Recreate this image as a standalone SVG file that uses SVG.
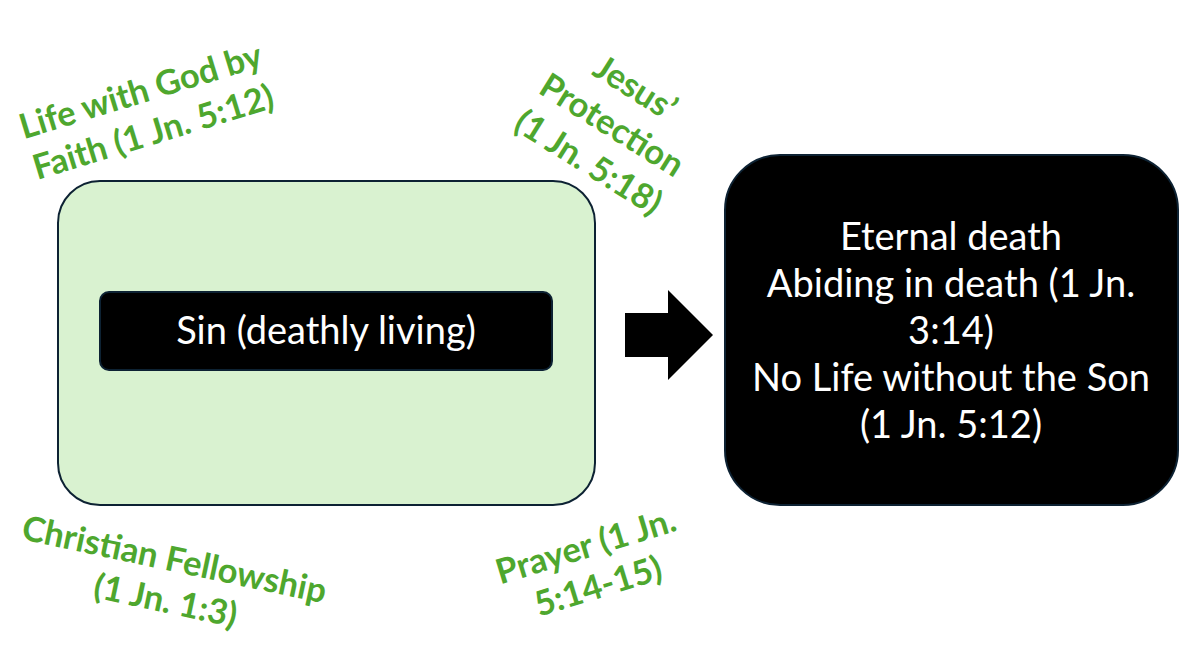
<svg xmlns="http://www.w3.org/2000/svg" width="1183" height="655" viewBox="0 0 1183 655">
<style>
.lbl{font-family:Lato,"Open Sans","Liberation Sans",sans-serif;font-weight:bold;font-size:34.5px;fill:#4ea72e;text-anchor:middle}
.wt{font-family:Lato,"Open Sans","Liberation Sans",sans-serif;font-size:38px;fill:#ffffff;text-anchor:middle}
.box{stroke:#0d2233;stroke-width:2}
</style>
<rect width="1183" height="655" fill="#ffffff"/>
<g id="life-box">
<rect class="box" x="58" y="181" width="537" height="324" rx="42" fill="#d9f2d0"/>
</g>
<g id="sin-node">
<rect class="box" x="100" y="292" width="452" height="78" rx="9" fill="#000000"/>
<text class="wt" x="326" y="344">Sin (deathly living)</text>
</g>
<g id="connectors">
<polygon points="625,313 668,313 668,290 713,335 668,380 668,357 625,357" fill="#000000"/>
</g>
<g id="death-node">
<rect class="box" x="725" y="155" width="453" height="350" rx="55" fill="#000000"/>
<text class="wt" x="951" y="250">Eternal death</text>
<text class="wt" x="951" y="297">Abiding in death (1 Jn.</text>
<text class="wt" x="951" y="344">3:14)</text>
<text class="wt" x="951" y="391">No Life without the Son</text>
<text class="wt" x="951" y="438">(1 Jn. 5:12)</text>
</g>
<g id="label-life" transform="translate(147,112) rotate(-17)">
<text class="lbl" x="0" y="-10">Life with God by</text>
<text class="lbl" x="0" y="33">Faith (1 Jn. 5:12)</text>
</g>
<g id="label-jesus" transform="translate(612,125) rotate(32)">
<text class="lbl" x="0" y="-32">Jesus’</text>
<text class="lbl" x="0" y="12">Protection</text>
<text class="lbl" x="0" y="56">(1 Jn. 5:18)</text>
</g>
<g id="label-fellowship" transform="translate(170,580) rotate(12)">
<text class="lbl" x="0" y="-9">Christian Fellowship</text>
<text class="lbl" x="0" y="33">(1 Jn. 1:3)</text>
</g>
<g id="label-prayer" transform="translate(592,566) rotate(-17)">
<text class="lbl" x="0" y="-9">Prayer (1 Jn.</text>
<text class="lbl" x="0" y="33">5:14-15)</text>
</g>
</svg>
